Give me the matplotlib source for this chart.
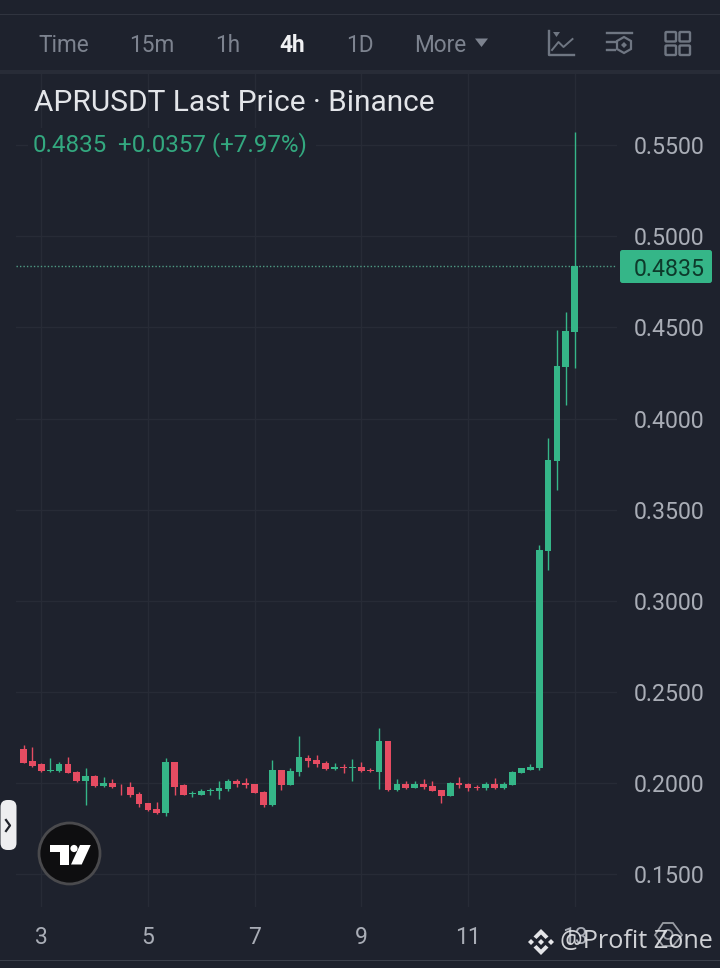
import matplotlib
matplotlib.use("Agg")
import matplotlib.pyplot as plt
from matplotlib.patches import Polygon, Circle, FancyBboxPatch, Rectangle

plt.rcParams['font.family'] = ['Roboto', 'DejaVu Sans']

# OHLC values of the 4h candles
opens = [.2187,.2121,.2104,.2066,.2068,.2104,.2061,.2011,.2039,.1984,.2000,.1985,.1978,.1940,.1889,.1857,
         .1834,.2115,.1989,.1938,.1936,.1953,.1956,.1967,.2011,.2000,.1993,.1949,.1879,.2071,.1991,.2061,
         .2139,.2126,.2112,.2075,.2090,.2084,.2088,.2073,.2061,.2231,.1962,.1995,.1973,.1995,.1984,.1962,
         .1929,.2002,.1995,.1980,.1971,.1995,.1971,.1991,.2057,.2071,.2082,.3273,.3767,.4283,.4475]
highs = [.2209,.2196,.2108,.2136,.2117,.2145,.2068,.2081,.2044,.2031,.2020,.1995,.2007,.1949,.1889,.1898,
         .2136,.2115,.1993,.1954,.1965,.1974,.2011,.2022,.2022,.2026,.1995,.1958,.2126,.2071,.2081,.2258,
         .2156,.2152,.2123,.2108,.2104,.2134,.2114,.2084,.2300,.2231,.2022,.2013,.2011,.2020,.2011,.1962,
         .2007,.2035,.2002,.1991,.2007,.2028,.2007,.2068,.2082,.2106,.3306,.3893,.4486,.4585,.5573]
lows =  [.2108,.2090,.2062,.2059,.2062,.2053,.2004,.1878,.1980,.1980,.1971,.1936,.1921,.1867,.1848,.1830,
         .1821,.1934,.1932,.1921,.1932,.1932,.1912,.1953,.1976,.1974,.1942,.1867,.1874,.1962,.1987,.2040,
         .2088,.2090,.2071,.2070,.2057,.2009,.2062,.2059,.1967,.1954,.1953,.1967,.1971,.1965,.1956,.1892,
         .1927,.1971,.1956,.1962,.1962,.1969,.1967,.1987,.2055,.2070,.2071,.3169,.3608,.4075,.4278]
closes = [.2112,.2095,.2066,.2071,.2104,.2057,.2011,.2039,.1984,.2000,.1976,.1982,.1934,.1885,.1852,.1835,
          .2115,.1978,.1936,.1942,.1956,.1962,.1971,.2013,.1996,.1991,.1945,.1879,.2071,.1991,.2066,.2145,
          .2121,.2104,.2075,.2090,.2082,.2088,.2066,.2068,.2231,.1960,.1995,.1971,.1995,.1976,.1958,.1927,
          .2000,.1989,.1971,.1974,.1995,.1971,.1995,.2061,.2082,.2090,.3279,.3773,.4289,.4481,.4835]
# first candle of each labelled day
date_labels = ['3', '5', '7', '9', '11', '13']
date_positions = [2, 14, 26, 38, 50, 62]
price_ticks = [0.15, 0.20, 0.25, 0.30, 0.35, 0.40, 0.45, 0.50, 0.55]
last_price = 0.4835

BG = '#1e222d'
GREEN = '#35b688'
RED = '#e64c62'
GRID = '#272b36'
TXT = '#a9adb6'
MUTED = '#7d838f'
ICON = '#6f7682'

W, H = 720, 968
fig = plt.figure(figsize=(W/100, H/100), dpi=100, facecolor=BG)

# price panel, pixel box 16..617 x 72..907
L, R, T, B = 16, 617, 72, 907
ax = fig.add_axes([L/W, 1-B/H, (R-L)/W, (B-T)/H], facecolor=BG)
ax.set_xlim(-0.844, 66.76)
ax.set_ylim(0.1319, 0.5902)
for s in ax.spines.values():
    s.set_visible(False)
ax.set_axisbelow(True)
ax.grid(True, color=GRID, lw=1)
ax.yaxis.tick_right()
ax.set_yticks(price_ticks)
ax.set_yticklabels([f'{p:.4f}' for p in price_ticks])
ax.set_xticks(date_positions)
ax.set_xticklabels(date_labels)
ax.tick_params(axis='y', length=0, pad=12.3, labelsize=16.7, labelcolor=TXT)
ax.tick_params(axis='x', length=0, pad=14, labelsize=16.5, labelcolor=TXT)

for i, (o, h, l, c) in enumerate(zip(opens, highs, lows, closes)):
    col = GREEN if c >= o else RED
    ax.vlines(i, l, h, color=col, lw=1, zorder=3)
    ax.bar(i, abs(c-o), bottom=min(o, c), width=0.76, color=col, lw=0, zorder=4)

ax.axhline(last_price, color='#4f9c84', lw=1, ls=(0, (1, 1.5)), zorder=2)

# overlay in pixel coordinates for the app chrome
ov = fig.add_axes([0, 0, 1, 1], facecolor='none')
ov.set_xlim(0, W)
ov.set_ylim(H, 0)
ov.axis('off')

ov.add_patch(Rectangle((0, 0), W, 14, color=BG, lw=0))
ov.add_patch(Rectangle((0, 14), W, 1.2, color='#30343f', lw=0))
ov.add_patch(Rectangle((0, 69.5), W, 4, color='#282c37', lw=0))
ov.add_patch(Rectangle((0, 960), W, 1.2, color='#3a3f4a', lw=0))

for s, xc, col, w in [('Time', 63.5, MUTED, 'normal'), ('15m', 151.5, MUTED, 'normal'),
                      ('1h', 227.5, MUTED, 'normal'), ('4h', 292, '#f0f1f3', 'bold'),
                      ('1D', 359.5, MUTED, 'normal'), ('More', 440, MUTED, 'normal')]:
    ov.text(xc, 45, s, color=col, fontsize=16.3, fontweight=w, ha='center', va='center')
ov.add_patch(Polygon([(475, 38.5), (488, 38.5), (481.5, 47)], color=MUTED, lw=0))

# toolbar icons
ov.plot([548.5, 548.5, 574], [31, 55, 55], color=ICON, lw=1.7)
ov.add_patch(Polygon([(553, 32), (560, 32), (556.5, 37)], color=ICON, lw=0))
ov.plot([552, 558.5, 563.5, 572.5], [50, 42, 47, 39], color=ICON, lw=1.4)
ov.plot([606.5, 631.5], [32.5, 32.5], color=ICON, lw=1.7)
ov.plot([606.5, 615], [41.5, 41.5], color=ICON, lw=1.7)
ov.plot([606.5, 615], [50, 50], color=ICON, lw=1.7)
ov.add_patch(Polygon([(624, 37), (631, 41), (631, 49), (624, 53), (617, 49), (617, 41)],
                     fill=False, ec=ICON, lw=1.6))
ov.add_patch(Polygon([(624, 42), (627, 45), (624, 48), (621, 45)], color=ICON, lw=0))
for xx in (665.5, 679.5):
    for yy in (32, 45.5):
        ov.add_patch(FancyBboxPatch((xx, yy), 10.5, 9.5, boxstyle='round,pad=0,rounding_size=1',
                                    fill=False, ec=ICON, lw=1.7))

# legend
ov.add_patch(Rectangle((28, 128), 288, 30, color=BG, lw=0))
ov.text(33.5, 103, 'APRUSDT Last Price · Binance', color='#e3e5e9', fontsize=21.5, ha='left', va='center')
ov.text(32.5, 145, '0.4835', color='#33a87f', fontsize=17.4, ha='left', va='center')
ov.text(118, 145, '+0.0357 (+7.97%)', color='#33a87f', fontsize=17.4, ha='left', va='center')

# last price tag
ov.add_patch(FancyBboxPatch((620, 250), 92, 33, boxstyle='round,pad=0,rounding_size=2.5',
                            color=GREEN, lw=0))
ov.text(634, 269, '0.4835', color='#0d3a2b', fontsize=16.7, ha='left', va='center')

# left handle
ov.add_patch(FancyBboxPatch((0.5, 800), 16, 50, boxstyle='round,pad=0,rounding_size=7',
                            color='#eeeef0', lw=0))
ov.plot([6, 10, 6], [820, 825.5, 831], color='#20232b', lw=1.6)

# TradingView badge
ov.add_patch(Circle((69.5, 853.5), 30.5, fc='#0e0e10', ec='#4a4a4d', lw=2))
ov.add_patch(Polygon([(50, 845), (68.5, 845), (68.5, 864.5), (60, 864.5), (60, 851.5), (50, 851.5)],
                     color='white', lw=0))
ov.add_patch(Circle((74, 848.5), 3.6, color='white', lw=0))
ov.add_patch(Polygon([(80, 845), (90.7, 845), (81.7, 864.5), (71, 864.5)], color='white', lw=0))

# hidden axis-settings icon behind the watermark
ov.add_patch(Polygon([(663, 923), (673, 923), (682, 935), (673, 946), (663, 946), (655, 935)],
                     fill=False, ec='#9a9da4', lw=1.3))
ov.add_patch(Circle((668, 934.5), 4.5, fill=False, ec='#9a9da4', lw=1.3))

# watermark
wm = '#e4e5e8'
cx, cy = 541, 942
ov.add_patch(Polygon([(cx, cy-13), (cx+7.5, cy-5.5), (cx+4.5, cy-3), (cx, cy-7.5), (cx-4.5, cy-3), (cx-7.5, cy-5.5)],
                     color=wm, lw=0))
ov.add_patch(Polygon([(cx, cy+13), (cx+7.5, cy+5.5), (cx+4.5, cy+3), (cx, cy+7.5), (cx-4.5, cy+3), (cx-7.5, cy+5.5)],
                     color=wm, lw=0))
for dx in (-10, 10):
    ov.add_patch(Polygon([(cx+dx-3, cy), (cx+dx, cy-3), (cx+dx+3, cy), (cx+dx, cy+3)], color=wm, lw=0))
ov.add_patch(Polygon([(cx-3, cy), (cx, cy-3), (cx+3, cy), (cx, cy+3)], color=wm, lw=0))
ov.text(560, 942, '@Profit Zone', color=wm, alpha=0.9, fontsize=18.2, family=['Open Sans', 'DejaVu Sans'],
        ha='left', va='center')

fig.savefig('out.png', dpi=100, facecolor=BG)
